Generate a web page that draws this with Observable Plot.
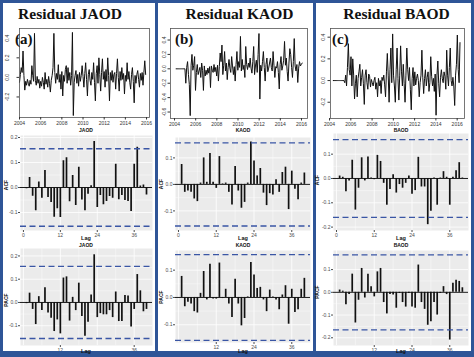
<!DOCTYPE html>
<html><head><meta charset="utf-8">
<script src="https://cdn.jsdelivr.net/npm/d3@7"></script>
<script src="https://cdn.jsdelivr.net/npm/@observablehq/plot@0.6"></script>
<style>
body{margin:0;background:#fff;}
#fig{position:relative;width:474px;height:357px;overflow:hidden;background:#fff;}
#fig svg{position:absolute;overflow:visible;}
</style>
</head><body><div id="fig"></div>
<script>
// ---------- data ----------
const titles = ["Residual JAOD", "Residual KAOD", "Residual BAOD"];
const tags = ["(a)", "(b)", "(c)"];
const names = ["JAOD", "KAOD", "BAOD"];
const yearTicks = [2004, 2006, 2008, 2010, 2012, 2014, 2016];
const lagTicksAcf = [0, 12, 24, 36];
const lagTicksPacf = [12, 24, 36];

const jaod = [
 -0.05,0.03,0.10,0.05,0.27,0.02,-0.13,-0.04,-0.08,-0.02,-0.06,-0.09,
 -0.03,-0.07,0.12,0.02,-0.04,0.45,-0.03,-0.08,0.01,-0.06,-0.02,-0.11,
 -0.04,-0.09,0.00,-0.05,-0.12,0.05,-0.07,-0.02,-0.10,0.01,-0.06,-0.15,
 -0.03,0.02,0.10,0.45,0.05,-0.06,0.04,-0.02,0.13,-0.05,0.03,-0.12,
 0.06,-0.19,0.02,-0.04,0.08,0.12,-0.06,0.10,-0.03,0.05,-0.08,0.02,
 0.46,-0.39,-0.05,0.02,0.07,-0.06,0.03,-0.09,0.05,-0.04,0.02,0.12,
 0.01,-0.10,0.04,0.15,-0.02,-0.19,0.03,0.08,-0.03,-0.08,0.05,-0.02,
 0.15,-0.05,-0.24,0.04,0.12,-0.06,0.20,0.03,-0.14,0.05,0.19,-0.02,
 0.06,-0.10,0.08,-0.04,0.20,0.02,-0.24,0.05,-0.03,0.07,-0.05,0.03,
 0.05,-0.12,0.04,0.19,0.00,-0.14,0.06,-0.03,0.10,-0.02,0.04,-0.17,
 0.02,-0.04,0.15,-0.02,0.06,-0.05,-0.12,0.03,0.10,-0.04,-0.26,0.02,
 -0.06,0.03,0.07,-0.02,-0.10,0.04,-0.03,0.05,-0.08,0.05,0.17,0.03
];
const kaod = [
 0,0,0,0,0,0,0,0,0,0,0,
 -0.20,0.02,0.10,-0.08,-0.22,-0.65,0.05,0.20,-0.02,0.05,0.17,-0.30,
 -0.05,0.06,-0.08,-0.03,0.02,-0.12,0.08,-0.02,-0.30,
 0.04,-0.10,-0.02,-0.08,0.01,-0.06,0.03,-0.26,
 0.04,-0.02,-0.05,0.06,-0.04,0.02,-0.10,0.05,-0.17,0.03,0.22,0.10,0.33,
 -0.08,0.05,0.24,-0.03,0.08,-0.15,0.02,0.13,0.01,-0.05,0.17,0.04,-0.08,0.03,-0.17,0.06,0.24,-0.02,0.10,0.02,0.45,
 -0.03,0.13,-0.01,0.05,-0.12,0.31,0.06,-0.01,0.08,0.02,0.15,0.01,-0.06,0.10,0.31,-0.08,0.04,0.12,-0.05,0.20,0.49,
 -0.42,
 0.05,-0.03,0.10,0.24,0.02,-0.17,0.06,0.15,-0.04,0.01,0.08,0.15,0.02,-0.03,0.24,0.05,-0.12,0.03,0.01,0.10,
 -0.05,-0.28,0.06,0.17,-0.02,0.04,0.12,0.38,0.05,0.15,-0.04,-0.17,0.08,0.28,0.20,0.02,-0.12,0.10,0.42,0.04,
 -0.03,0.06,-0.19,0.01,0.10,0.04,0.06,0.08
];
const baod = [
 0,0,0,0,0,0,0,0,0,0,0,0,0,-0.02,
 0.05,-0.05,0.12,0.34,0.10,0.05,0.22,-0.05,0.20,0.05,-0.17,-0.03,0.05,-0.15,0.02,0.08,0.15,-0.05,0.03,0.10,-0.03,-0.22,
 0.05,0.10,-0.02,-0.08,0.06,0.04,-0.06,0.01,-0.02,-0.05,0.00,0.03,-0.08,-0.02,-0.15,0.02,-0.05,0.00,-0.12,0.03,0.00,0.05,-0.04,-0.15,0.08,0.25,0.05,-0.20,0.10,0.30,-0.02,0.43,
 0.05,-0.05,-0.20,0.10,0.30,0.02,-0.18,0.05,0.32,0.08,-0.05,0.15,-0.03,-0.20,0.05,0.30,0.10,0.00,0.12,-0.08,-0.27,
 0.02,0.12,-0.05,0.08,-0.04,0.02,0.06,0.00,-0.15,-0.02,0.05,0.28,
 0.03,-0.12,0.02,0.10,-0.05,0.03,0.08,-0.10,-0.02,0.22,0.04,-0.05,0.02,-0.10,0.06,-0.32,
 0.05,0.18,-0.03,-0.15,0.03,0.10,0.02,-0.02,0.08,0.04,-0.08,0.28,
 0.05,-0.05,0.12,0.30,0.00,-0.05,0.03,-0.05,-0.23,0.05,0.15,0.42,0.10,-0.02,0.35
];

const acfJ = [-0.005,0.04,-0.035,-0.093,0.022,-0.043,0.068,-0.04,-0.06,-0.119,-0.085,-0.12,0.107,0.119,-0.057,0.048,-0.072,0.081,-0.05,-0.093,-0.027,0.007,0.184,-0.08,-0.032,-0.069,-0.056,-0.036,-0.043,0.093,-0.049,-0.032,-0.052,-0.056,-0.096,0.093,0.161,0.006,0.01,-0.03];
const pacfJ = [-0.005,0.04,-0.03,-0.095,0.025,-0.035,0.063,-0.045,-0.068,-0.125,-0.075,-0.135,0.105,0.11,-0.08,0.022,-0.035,0.083,-0.06,-0.145,-0.085,0.032,0.205,-0.065,-0.048,-0.053,-0.053,-0.035,-0.065,0.045,-0.082,-0.082,0.03,0.028,-0.105,-0.03,0.12,0.05,-0.04,-0.03];
const acfK = [0.075,-0.03,-0.025,-0.03,-0.055,-0.065,0.005,0.1,0.008,0.117,0.008,-0.015,0.105,0.002,0.005,-0.03,-0.078,0.068,-0.025,-0.09,-0.068,0.005,0.16,0.088,0.032,0.06,-0.033,-0.08,-0.035,-0.04,0.018,-0.03,0.045,0.065,-0.095,0.05,-0.018,-0.058,0.005,0.043];
const pacfK = [0.077,-0.034,-0.018,-0.024,-0.052,-0.057,0.015,0.095,-0.009,0.122,-0.006,-0.006,0.126,-0.004,0.03,-0.024,-0.073,0.067,-0.024,-0.104,-0.077,0.002,0.128,0.082,0.033,0.037,-0.009,-0.052,0.027,0.002,-0.009,-0.045,0.009,0.043,-0.098,0.03,-0.055,-0.045,0.03,0.07];
const acfB = [0.01,0.005,-0.055,-0.01,0.075,-0.13,-0.04,0.085,-0.01,0.088,0.002,-0.005,0.095,0.07,-0.02,-0.11,-0.045,0.015,-0.06,-0.025,-0.04,-0.02,0.01,-0.065,-0.05,0.087,-0.035,-0.035,-0.19,-0.135,0.002,-0.11,0.002,0.028,0.005,-0.11,0.005,0.032,0.065,0.002];
const pacfB = [0.01,0.005,-0.055,-0.01,0.08,-0.135,-0.035,0.105,-0.025,0.08,0.025,-0.02,0.09,0.105,-0.045,-0.095,-0.01,-0.012,-0.07,-0.005,-0.045,-0.065,-0.005,-0.065,-0.07,0.12,-0.045,-0.075,-0.145,-0.13,-0.045,-0.1,-0.005,0.025,-0.01,-0.21,0.04,0.053,0.048,0.02];
const ciLimit = [0.155, 0.157, 0.160];

// ---------- helpers ----------
const fig = document.getElementById("fig");
const FONT = "Liberation Sans, Arial, sans-serif";
const BLUE = "#2F5597";
const fmt = d => d.toFixed(1);
function place(svg, left, top) { svg.style.left = left + "px"; svg.style.top = top + "px"; fig.appendChild(svg); }

function tsPanel(vals, start, box, xDom, yDom, yTicks, labGap) {
  const [L, T, R, B] = box;
  const mL = 18, mR = 3, mT = 3, mB = 12;
  const pts = vals.map((v, i) => ({t: start + i / 12, v}));
  const svg = Plot.plot({
    width: R - L + mL + mR, height: B - T + mT + mB,
    marginLeft: mL, marginRight: mR, marginTop: mT, marginBottom: mB,
    x: {domain: xDom, label: null}, y: {domain: yDom, label: null},
    style: {fontFamily: FONT, fontSize: "5px", color: "#333", background: "transparent"},
    marks: [
      Plot.line(pts, {x: "t", y: "v", stroke: "#111", strokeWidth: 1}),
      Plot.frame({stroke: "#555", strokeWidth: 0.8}),
      Plot.axisX({ticks: yearTicks, tickSize: 2.5, tickPadding: 1, tickFormat: d => String(d), fontSize: 5, label: null}),
      Plot.axisY({ticks: yTicks, tickSize: 2.5, tickFormat: () => "", label: null}),
      Plot.text(yTicks, {y: d => d, text: d => fmt(d), frameAnchor: "left", dx: -labGap, rotate: -90, textAnchor: "middle", lineAnchor: "middle", fontSize: 5, fill: "#333"})
    ]
  });
  place(svg, L - mL, T - mT);
}

function acfPanel(vals, ci, box, yDom, yTicks, xTicks) {
  const [L, T, R, B] = box;
  const mL = 16, mR = 2, mT = 2, mB = 8;
  const data = vals.map((v, i) => ({lag: i + 1, v}));
  const minorY = [];
  for (let i = 0; i < yTicks.length - 1; i++) minorY.push((yTicks[i] + yTicks[i + 1]) / 2);
  const svg = Plot.plot({
    width: R - L + mL + mR, height: B - T + mT + mB,
    marginLeft: mL, marginRight: mR, marginTop: mT, marginBottom: mB,
    x: {domain: [-0.95, 41.95], label: null}, y: {domain: yDom, label: null},
    style: {fontFamily: FONT, fontSize: "5px", color: "#4d4d4d", background: "transparent"},
    marks: [
      Plot.frame({fill: "#EBEBEB", stroke: "none"}),
      Plot.ruleY(minorY, {stroke: "#fff", strokeWidth: 0.4}),
      Plot.ruleX([6, 18, 30], {stroke: "#fff", strokeWidth: 0.4}),
      Plot.ruleY(yTicks, {stroke: "#fff", strokeWidth: 0.8}),
      Plot.ruleX([0, 12, 24, 36], {stroke: "#fff", strokeWidth: 0.8}),
      Plot.ruleY([0], {stroke: "#000", strokeWidth: 0.9}),
      Plot.ruleX(data, {x: "lag", y1: 0, y2: "v", stroke: "#111", strokeWidth: 1.7}),
      Plot.ruleY([ci, -ci], {stroke: "#3A56A5", strokeWidth: 1.3, strokeDasharray: "6,3.5"}),
      Plot.axisY({ticks: yTicks, tickSize: 2, tickPadding: 1, tickFormat: fmt, fontSize: 5, label: null}),
      Plot.axisX({ticks: xTicks, tickSize: 2, tickPadding: 0.5, tickFormat: d => String(d), fontSize: 5, label: null})
    ]
  });
  place(svg, L - mL, T - mT);
}

// ---------- time series ----------
tsPanel(jaod, 2004.0, [19, 28, 149, 117], [2004.0, 2016.28], [-0.41, 0.50], [-0.2, 0, 0.2, 0.4], 12);
tsPanel(kaod, 2004.15, [170, 28, 307, 118], [2003.62, 2016.57], [-0.69, 0.56], [-0.6, -0.4, -0.2, 0, 0.2, 0.4], 6.5);
tsPanel(baod, 2004.35, [330, 28, 464, 118], [2004.09, 2016.69], [-0.35, 0.48], [-0.2, 0, 0.2, 0.4], 7);

// ---------- ACF ----------
acfPanel(acfJ, ciLimit[0], [20, 135, 152, 230], [-0.172, 0.208], [-0.1, 0, 0.1, 0.2], lagTicksAcf);
acfPanel(acfK, ciLimit[1], [175, 137, 310, 230], [-0.174, 0.177], [-0.1, 0, 0.1], lagTicksAcf);
acfPanel(acfB, ciLimit[2], [333, 133, 468, 230], [-0.214, 0.185], [-0.2, -0.1, 0, 0.1], lagTicksAcf);
// ---------- PACF ----------
acfPanel(pacfJ, ciLimit[0], [20, 248, 152, 345], [-0.185, 0.232], [-0.1, 0, 0.1, 0.2], [12, 36]);
acfPanel(pacfK, ciLimit[1], [175, 250, 310, 342], [-0.165, 0.172], [-0.1, 0, 0.1], lagTicksPacf);
acfPanel(pacfB, 0.165, [333, 250, 468, 345], [-0.234, 0.184], [-0.2, -0.1, 0, 0.1], lagTicksPacf);

// ---------- overlay: frame, titles, labels ----------
const ov = d3.create("svg").attr("width", 474).attr("height", 357).style("left", "0px").style("top", "0px");
const frameRects = [[0,0,474,3],[0,0,3,357],[471,0,3,357],[0,351,474,6],[155,0,3,357],[313,0,3,357]];
ov.selectAll("rect").data(frameRects).join("rect")
  .attr("x", d => d[0]).attr("y", d => d[1]).attr("width", d => d[2]).attr("height", d => d[3]).attr("fill", BLUE);
const serif = "Liberation Serif, Times New Roman, serif";
const titleX = [70, 239.5, 396.5];
titles.forEach((t, i) => ov.append("text").attr("x", titleX[i]).attr("y", 19).attr("text-anchor", "middle")
  .attr("font-family", serif).attr("font-weight", "bold").attr("font-size", 15.5).attr("fill", "#111").text(t));
const tagX = [15, 175, 332];
tags.forEach((t, i) => ov.append("text").attr("x", tagX[i]).attr("y", 44)
  .attr("font-family", serif).attr("font-weight", "bold").attr("font-size", 15).attr("fill", "#111").text(t));
const small = (x, y, s, size, rot) => {
  const t = ov.append("text").attr("x", x).attr("y", y).attr("text-anchor", "middle").attr("dominant-baseline", "middle")
    .attr("font-family", FONT).attr("font-weight", "bold").attr("font-size", size).attr("fill", "#111").text(s);
  if (rot) t.attr("transform", `rotate(-90 ${x} ${y})`);
};
const cx = [86, 243, 401];
const ylx = [7, 162, 318];
names.forEach((n, i) => {
  small(cx[i], 131, n, 5);
  small(cx[i], 238.5, "Lag", 5.5);
  small(cx[i], 245.5, n, 5);
  small(cx[i], 352, "Lag", 5.5);
  small(ylx[i], [185, 184, 180][i], "ACF", 5, true);
  small(ylx[i], [300, 297, 292][i], "PACF", 5, true);
});
fig.appendChild(ov.node());
</script>
</body></html>
